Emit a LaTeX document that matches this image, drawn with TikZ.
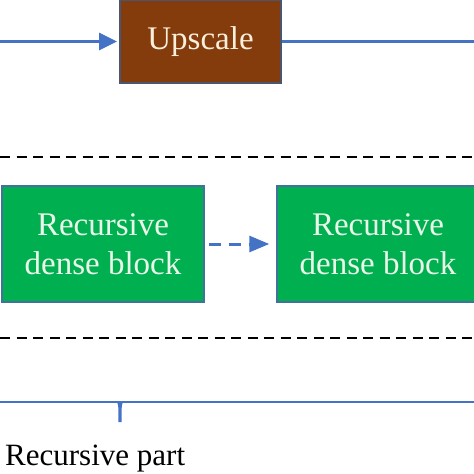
\documentclass[tikz,border=0pt]{standalone}
\usepackage{fontspec}
\setmainfont{Liberation Serif}
\usetikzlibrary{arrows.meta}
\definecolor{brownfill}{HTML}{843C0C}
\definecolor{slateborder}{HTML}{4A5670}
\definecolor{greenfill}{HTML}{00B050}
\definecolor{greenborder}{HTML}{41719C}
\definecolor{arrowblue}{HTML}{4472C4}
\definecolor{creamtext}{HTML}{FBEFDC}
\definecolor{paletext}{HTML}{EAF6EA}
\tikzset{
  upbox/.style={draw=slateborder, line width=2pt, fill=brownfill, text=creamtext,
    minimum width=161pt, minimum height=83pt, inner sep=0pt,
    font=\fontsize{33}{39}\selectfont},
  greenbox/.style={draw=greenborder, line width=1.5pt, fill=greenfill, text=paletext,
    minimum width=202pt, minimum height=116pt, inner sep=0pt, align=center,
    font=\fontsize{33}{39}\selectfont},
  bluearrow/.style={draw=arrowblue, line width=2.8pt, -{Triangle[length=18pt,width=17pt]}},
  blueline/.style={draw=arrowblue, line width=2.6pt},
  sepline/.style={draw=black, line width=2.8pt, dash pattern=on 10pt off 6.5pt},
}
\begin{document}
\begin{tikzpicture}[x=1pt,y=-1pt]
\useasboundingbox (0,0) rectangle (474,474);
\clip (0,0) rectangle (474,474);
\fill[white] (0,0) rectangle (474,474);
% top row
\node[upbox] (up) at (200.5,41.5) {Upscale};
\coordinate (inL) at (0,41.5);
\coordinate (outR) at (474,41.5);
\draw[bluearrow] (inL) -- ([xshift=-2pt]up.west |- inL);
\draw[blueline] (up.east |- outR) -- (outR);
% separators
\coordinate (s1a) at (0,157); \coordinate (s1b) at (474,157);
\coordinate (s2a) at (0,338); \coordinate (s2b) at (474,338);
\draw[sepline] (s1a) -- (s1b);
\draw[sepline] (s2a) -- (s2b);
% recursive blocks
\node[greenbox] (rb1) at (103,244) {Recursive\\dense block};
\node[greenbox] (rb2) at (378,244) {Recursive\\dense block};
\draw[draw=arrowblue, line width=3pt, dash pattern=on 12pt off 8pt,
  -{Triangle[length=20pt,width=16pt]}, shorten <=4pt, shorten >=7pt]
  (rb1.east) -- (rb2.west);
% brace
\coordinate (bL) at (0,402);
\coordinate (bR) at (474,402);
\coordinate (bT) at (120,422);
\draw[blueline] (bL) -- (bR);
\fill[arrowblue] (114,401) .. controls (117.5,401.5) and (118.3,404) .. (118.3,408)
  -- (118.3,422) -- (121.7,422) -- (121.7,408)
  .. controls (121.7,404) and (122.5,401.5) .. (126,401) -- cycle;
\node[anchor=base west, inner sep=0pt, font=\fontsize{31}{37}\selectfont] (lbl) at (5,465) {Recursive part};
\end{tikzpicture}
\end{document}
